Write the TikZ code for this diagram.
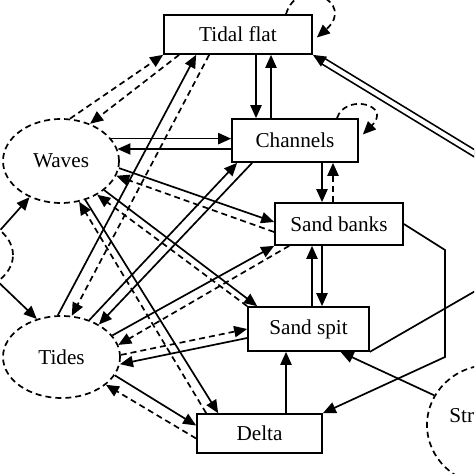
\documentclass[tikz,border=0pt]{standalone}
\usepackage{fontspec}
\setmainfont{Liberation Serif}
\usetikzlibrary{arrows.meta,shapes.geometric,calc}
\begin{document}
\begin{tikzpicture}[x=0.5pt,y=-0.5pt,
  every node/.style={font=\fontsize{10.6}{12}\selectfont},
  box/.style={draw, line width=0.85pt, inner sep=0pt},
  ell/.style={draw, ellipse, line width=0.85pt, dash pattern=on 3pt off 2pt, inner sep=0pt},
  conn/.style={line width=0.85pt, -{Triangle[length=6.5pt,width=5.6pt]}},
  dconn/.style={conn, dash pattern=on 3pt off 2pt},
  plain/.style={line width=0.85pt}
]
\useasboundingbox (0,0) rectangle (474,474);
\clip (0,0) rectangle (474,474);

% ellipses
\node[ell, minimum width=58pt, minimum height=42pt] (wv) at (61,161) {Waves};
\node[ell, minimum width=58.5pt, minimum height=41pt] (td) at (61.5,357) {Tides};
\node[ell, minimum width=58pt, minimum height=39pt] (lf) at (-45,255) {};
\node[ell, minimum width=63pt, minimum height=60pt] (st) at (490,425) {};
\node[anchor=base west, inner sep=0pt] (stl) at (449,422) {Str};

% boxes
\node[box, minimum width=74pt, minimum height=19.5pt] (tf) at (238,34.5) {Tidal flat};
\node[box, minimum width=63pt, minimum height=21.5pt] (ch) at (295,140.5) {Channels};
\node[box, minimum width=64pt, minimum height=21pt] (sb) at (339,224) {Sand banks};
\node[box, minimum width=60.5pt, minimum height=22pt] (ss) at (308.5,329) {Sand spit};
\node[box, minimum width=62.5pt, minimum height=19.5pt] (de) at (259.5,433.5) {Delta};

% Waves connectors
\draw[dconn] (wv.78) -- (tf.south west);
\draw[dconn] ([xshift=8pt]tf.south west) -- (wv.52);
\draw[conn] (wv.24) -- (wv.24 -| ch.west);
\draw[conn] (wv.12 -| ch.west) -- (wv.12);
\draw[conn] (wv.-7) -- ([yshift=1pt]sb.west);
\draw[dconn] ([yshift=-4pt]sb.west) -- (wv.-15);
\draw[conn] (wv.-34) -- ([xshift=5pt]ss.north west);
\draw[dconn] (ss.north west) -- (wv.-43);
\draw[conn] (wv.-58) -- ([xshift=11pt]de.north west);
\draw[dconn] ([xshift=5pt]de.north west) -- (wv.-66);

% Tides connectors
\draw[conn] (td.95) -- ([xshift=16.5pt]tf.south west);
\draw[dconn] ([xshift=23pt]tf.south west) -- (td.76);
\draw[conn] (td.53) -- ([xshift=3pt]ch.south west);
\draw[conn] ([xshift=10.5pt]ch.south west) -- (td.41);
\draw[conn] (td.23) -- (sb.south west);
\draw[dconn] ([xshift=7.5pt]sb.south west) -- (td.12);
\draw[dconn] (td.2) -- (ss.west);
\draw[conn] ([yshift=-4.5pt]ss.west) -- (td.-7);
\draw[conn] (td.-19) -- ([yshift=4pt]de.west);
\draw[dconn] ([yshift=-2.5pt]de.west) -- (td.-32);

% left ellipse
\draw[conn] (lf.29) -- (wv.229);
\draw[conn] (lf.-32) -- (td.123);

% vertical links
\draw[conn] ([xshift=9pt]tf.south) -- ([xshift=9pt]tf.south |- ch.north);
\draw[conn] ([xshift=16.5pt]tf.south |- ch.north) -- ([xshift=16.5pt]tf.south);
\draw[conn] ([xshift=13.5pt]ch.south) -- ([xshift=13.5pt]ch.south |- sb.north);
\draw[dconn] ([xshift=19pt]ch.south |- sb.north) -- ([xshift=19pt]ch.south);
\draw[conn] ([xshift=1.75pt]ss.north) -- ([xshift=1.75pt]ss.north |- sb.south);
\draw[conn] ([xshift=6.75pt]ss.north |- sb.south) -- ([xshift=6.75pt]ss.north);
\draw[conn] ([xshift=13.25pt]de.north) -- ([xshift=13.25pt]de.north |- ss.south);
\draw[conn] (st.152) -- ([xshift=16pt]ss.south);

% right side paths
\coordinate (p1) at (445,250);
\coordinate (p2) at (445,357);
\draw[conn] (sb.east) -- (p1) -- (p2) -- (de.north east);
\coordinate (p3) at (510,271);
\draw[plain] (ss.south east) -- (p3);
\coordinate (p4) at (510,175);
\draw[conn, double, double distance=2.2pt] (p4) -- (tf.south east);

% self loops
\draw[dconn] ([xshift=24pt]tf.north) .. controls +(12,-40) and +(40,-35) .. ([xshift=2pt,yshift=-1.5pt]tf.east);
\draw[dconn] ([xshift=21pt]ch.north) .. controls +(8,-25) and +(30,-30) .. ([xshift=2pt,yshift=3pt]ch.east);
\end{tikzpicture}
\end{document}
